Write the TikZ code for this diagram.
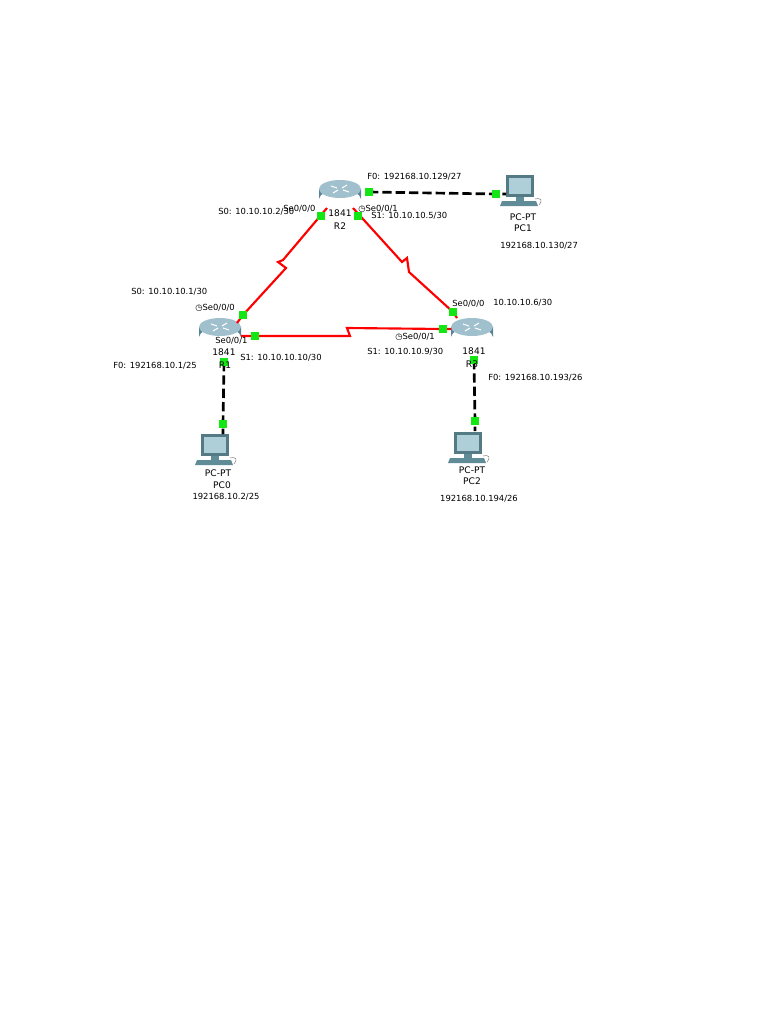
\documentclass[tikz,border=0pt]{standalone}
\usepackage{fontspec}
\setmainfont{DejaVu Sans}
\usetikzlibrary{shapes.geometric}
\definecolor{rtop}{RGB}{160,192,205}
\definecolor{rside}{RGB}{90,130,150}
\definecolor{pcc}{RGB}{120,175,190}
\definecolor{gdot}{RGB}{20,230,20}
\newcommand{\clk}{◷}
\begin{document}
\begin{tikzpicture}[x=0.75pt,y=-0.75pt,
  lbl/.style={font=\fontsize{6.3}{7}\selectfont, inner sep=0pt},
  dev/.style={font=\fontsize{6.8}{7.5}\selectfont, inner sep=0pt},
  serial/.style={red, line width=1.6pt},
  eth/.style={black, line width=2pt, dash pattern=on 7pt off 3pt},
  dot/.style={fill=gdot, draw=none, minimum size=5.5pt, inner sep=0pt},
  pt/.style={inner sep=0pt, minimum size=0pt}]
\useasboundingbox (0,0) rectangle (768,1024);
\fill[white] (0,0) rectangle (768,1024);
\tikzset{router/.pic={
  \fill[rside] (-21,-5) -- (-21,5) arc[start angle=180,end angle=360,x radius=21,y radius=9] -- (21,-5) -- cycle;
  \fill[rtop] (0,-5) ellipse[x radius=21,y radius=9];
  \draw[white, line width=0.8pt] (-9,-8)--(-3,-6) (9,-2)--(3,-4) (-7,-1)--(-2,-4) (7,-9)--(2,-6);
 },
 pc/.pic={
  \fill[pcc!70!black] (-14,-18) rectangle (14,4);
  \fill[pcc!60!white] (-11,-15) rectangle (11,1);
  \fill[pcc!80!black] (-4,4) rectangle (4,8);
  \fill[pcc!80!black] (-18,8) -- (16,8) -- (18,13) -- (-20,13) -- cycle;
  \draw[gray] (15,6) .. controls (21,4) and (23,8) .. (19,12);
 }}
\pic at (340,194) {router};
\pic at (220,332) {router};
\pic at (472,332) {router};
\pic at (520,193) {pc};
\pic at (215,452) {pc};
\pic at (468,450) {pc};
\node[pt] (R2) at (340,194) {};
\node[pt] (R1) at (220,332) {};
\node[pt] (R3) at (472,332) {};
\node[dot] (r2a) at (321,216) {};
\node[dot] (r2b) at (358,216) {};
\node[dot] (r2f) at (369,192) {};
\node[dot] (pc1f) at (496,194) {};
\node[dot] (r1a) at (243,315) {};
\node[dot] (r1b) at (255,336) {};
\node[dot] (r1f) at (224,362) {};
\node[dot] (pc0f) at (223,424) {};
\node[dot] (r3a) at (453,312) {};
\node[dot] (r3b) at (443,329) {};
\node[dot] (r3f) at (474,360) {};
\node[dot] (pc2f) at (475,421) {};
\draw[serial] (R2.center) ++(-13,14) -- (283,260) -- (278,262) -- (286,268) -- (r1a.center) -- ++(-6,8);
\draw[serial] (R2.center) ++(13,14) -- (402,262) -- (407,258) -- (409,272) -- (r3a.center) -- ++(4,6);
\draw[serial] (r1b.center) -- ++(-14,0) (r1b.center) -- (350,336) -- (347,328) -- (r3b.center) -- ++(8,0);
\draw[eth] (r2f.center) -- (pc1f.center) -- ++(10,0);
\draw[eth] (r1f.center) -- (pc0f.center) -- ++(0,10);
\draw[eth] (r3f.center) -- (pc2f.center) -- ++(0,10);
\foreach \n in {r2a,r2b,r2f,pc1f,r1a,r1b,r1f,pc0f,r3a,r3b,r3f,pc2f} \node[dot] at (\n) {};
\node[dev] at (340,213) {1841};
\node[dev] at (340,226) {R2};
\node[dev] at (224,352) {1841};
\node[dev] at (225,365) {R1};
\node[dev] at (474,351) {1841};
\node[dev] at (472,364) {R3};
\node[dev] at (523,217) {PC-PT};
\node[dev] at (523,228) {PC1};
\node[dev] at (218,473) {PC-PT};
\node[dev] at (222,485) {PC0};
\node[dev] at (472,470) {PC-PT};
\node[dev] at (472,481) {PC2};
\node[lbl,anchor=west] at (367,177) {F0: 192168.10.129/27};
\node[lbl,anchor=west] at (218,212) {S0: 10.10.10.2/30};
\node[lbl,anchor=west] at (283,209) {Se0/0/0};
\node[lbl,anchor=west] at (358,209) {\clk Se0/0/1};
\node[lbl,anchor=west] at (371,216) {S1: 10.10.10.5/30};
\node[lbl,anchor=west] at (500,246) {192168.10.130/27};
\node[lbl,anchor=west] at (131,292) {S0: 10.10.10.1/30};
\node[lbl,anchor=west] at (195,308) {\clk Se0/0/0};
\node[lbl,anchor=west] at (215,341) {Se0/0/1};
\node[lbl,anchor=west] at (113,366) {F0: 192168.10.1/25};
\node[lbl,anchor=west] at (240,358) {S1: 10.10.10.10/30};
\node[lbl,anchor=west] at (452,304) {Se0/0/0};
\node[lbl,anchor=west] at (493,303) {10.10.10.6/30};
\node[lbl,anchor=west] at (395,337) {\clk Se0/0/1};
\node[lbl,anchor=west] at (367,352) {S1: 10.10.10.9/30};
\node[lbl,anchor=west] at (488,378) {F0: 192168.10.193/26};
\node[lbl] at (226,497) {192168.10.2/25};
\node[lbl] at (479,499) {192168.10.194/26};
\end{tikzpicture}
\end{document}
